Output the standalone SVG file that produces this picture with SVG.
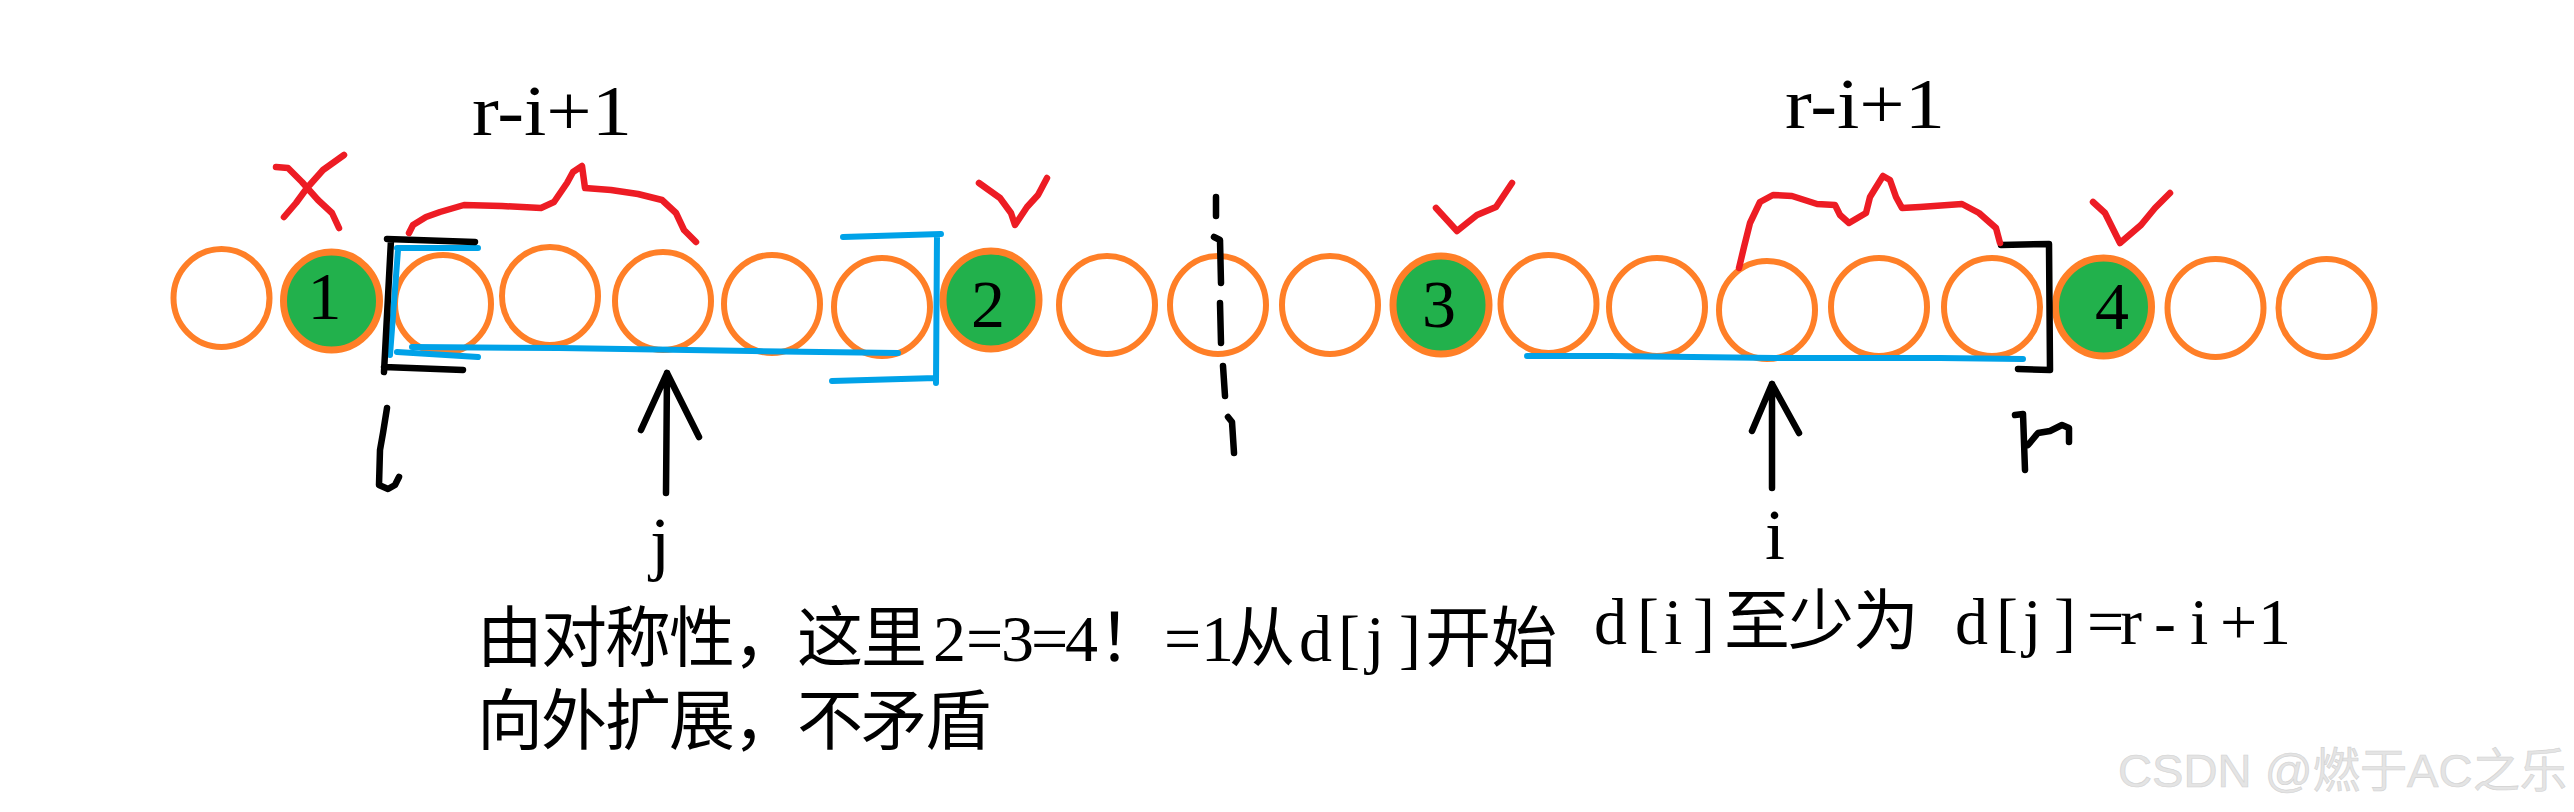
<svg xmlns="http://www.w3.org/2000/svg" width="2574" height="812" viewBox="0 0 2574 812">
<style>
.n{fill:#fff;fill-opacity:0;stroke:#ff7f27;stroke-width:6}
.g{fill:#22b14c;stroke:#ff7f27;stroke-width:7}
.s{fill:none;stroke-linecap:round;stroke-linejoin:round}
.r{stroke:#ed1c24;stroke-width:6.500}
.b{stroke:#00a2e8;stroke-width:6}
.k{stroke:#000;stroke-width:6.500}
text{font-family:"Liberation Serif","Noto Sans CJK SC",serif;fill:#000}
.d{font-size:68px;text-anchor:middle}
.t{font-size:72px}
.z{font-size:66px}
.w{font-family:"Liberation Sans","Noto Sans CJK SC",sans-serif;font-size:47px;fill:#e4e4e4;stroke:#d2d2d2;stroke-width:.6}
</style>
<rect width="2574" height="812" fill="#fff"/>
<g id="n0"><ellipse class="n" cx="221.500" cy="298" rx="48" ry="49"/></g>
<g id="n1"><ellipse class="g" cx="331.500" cy="301" rx="48" ry="49"/><text class="d" x="324.500" y="319">1</text></g>
<g id="n2"><ellipse class="n" cx="443" cy="304" rx="48" ry="49"/></g>
<g id="n3"><ellipse class="n" cx="550" cy="296" rx="48" ry="49"/></g>
<g id="n4"><ellipse class="n" cx="663" cy="301" rx="48" ry="49"/></g>
<g id="n5"><ellipse class="n" cx="772" cy="304" rx="48" ry="49"/></g>
<g id="n6"><ellipse class="n" cx="882" cy="307" rx="48" ry="49"/></g>
<g id="n7"><ellipse class="g" cx="991" cy="300" rx="48" ry="49"/><text class="d" x="988" y="327">2</text></g>
<g id="n8"><ellipse class="n" cx="1107" cy="305" rx="48" ry="49"/></g>
<g id="n9"><ellipse class="n" cx="1218" cy="305" rx="48" ry="49"/></g>
<g id="n10"><ellipse class="n" cx="1330" cy="305" rx="48" ry="49"/></g>
<g id="n11"><ellipse class="g" cx="1441" cy="305" rx="48" ry="49"/><text class="d" x="1439" y="327">3</text></g>
<g id="n12"><ellipse class="n" cx="1548.500" cy="304" rx="48" ry="49"/></g>
<g id="n13"><ellipse class="n" cx="1657" cy="307" rx="48" ry="49"/></g>
<g id="n14"><ellipse class="n" cx="1767" cy="310" rx="48" ry="49"/></g>
<g id="n15"><ellipse class="n" cx="1879" cy="307" rx="48" ry="49"/></g>
<g id="n16"><ellipse class="n" cx="1992" cy="307" rx="48" ry="49"/></g>
<g id="n17"><ellipse class="g" cx="2103.500" cy="307" rx="48" ry="49"/><text class="d" x="2112" y="329">4</text></g>
<g id="n18"><ellipse class="n" cx="2215.500" cy="308" rx="48" ry="49"/></g>
<g id="n19"><ellipse class="n" cx="2326.500" cy="308" rx="48" ry="49"/></g>
<g id="connectors">
<g class="s b">
<path d="M397 248H478M398 250L390 355M397 352L478 357"/>
<path d="M412 347L559 348L752 351L898 353"/>
<path d="M843 237L941 234M937 235L936 383M832 381L936 378"/>
<path d="M1527 356L1610 356L1775 358L1940 358L2023 359"/>
</g>
<g class="s k">
<path d="M475 242L387 239M391 240L384 372M384 367L463 370"/>
<path d="M387 408L383 433L380 450L379 485L388 489L395 485L399 477"/>
<path d="M667 373L666 493M641 430L667 373L699 437"/>
<path d="M1772 384V488M1752 431L1772 384L1799 433"/>
<path d="M1216 197V216M1214 237L1220 240L1221 283M1220 303L1221 343M1223 366L1225 396M1228 417L1232 422L1234 453"/>
<path d="M2001 245L2049 244L2050 370L2018 369"/>
<path d="M2015 415L2023 414L2025 470M2028 445L2038 433L2050 431L2062 425L2069 428L2069 442"/>
</g>
<g class="s r">
<path d="M276 167L288 168L302 182L318 200L332 213L339 228M344 155L323 170L307 188L296 203L284 217"/>
<path d="M409 233L413 225L426 217L440 212L464 205L502 206L541 208L554 202L567 183L573 172L582 166L585 188L611 190L638 194L662 200L676 213L684 230L696 242"/>
<path d="M979 183L993 193L1000 198L1011 213L1015 225L1027 207L1038 195L1047 178"/>
<path d="M1436 208L1447 220L1457 231L1477 215L1496 207L1512 183"/>
<path d="M1739 268L1744 247L1750 223L1760 202L1773 195L1792 196L1817 204L1835 205L1840 215L1849 223L1866 213L1870 197L1883 176L1890 180L1896 197L1902 208L1920 207L1962 204L1979 213L1996 228L2000 243"/>
<path d="M2093 202L2105 213L2120 243L2141 225L2155 208L2170 193"/>
</g>
</g>
<g id="labels">
<text class="t" x="472" y="135" textLength="160" lengthAdjust="spacingAndGlyphs">r-i+1</text>
<text class="t" x="1785" y="128" textLength="160" lengthAdjust="spacingAndGlyphs">r-i+1</text>
<text class="t" x="650" y="567">j</text>
<text class="t" x="1765" y="559">i</text>
<text class="z" y="661" x="477 541 605 669 733 797 861 933 966 1001 1031 1065 1098 1164 1201 1229 1299 1338 1366 1399 1425 1491">由对称性，这里2=3=4！=1从d[j]开始</text>
<text class="z" y="744" x="477 541 605 669 733 797 861 925">向外扩展，不矛盾</text>
<text class="z" y="644" x="1594 1637 1664 1693 1724 1788 1853 1955 1996 2023 2054 2087 2120 2154 2190 2220 2258">d[i]至少为d[j]=r-i+1</text>
<text class="w" x="2118" y="787" textLength="449" lengthAdjust="spacingAndGlyphs">CSDN @燃于AC之乐</text>
</g>
</svg>
